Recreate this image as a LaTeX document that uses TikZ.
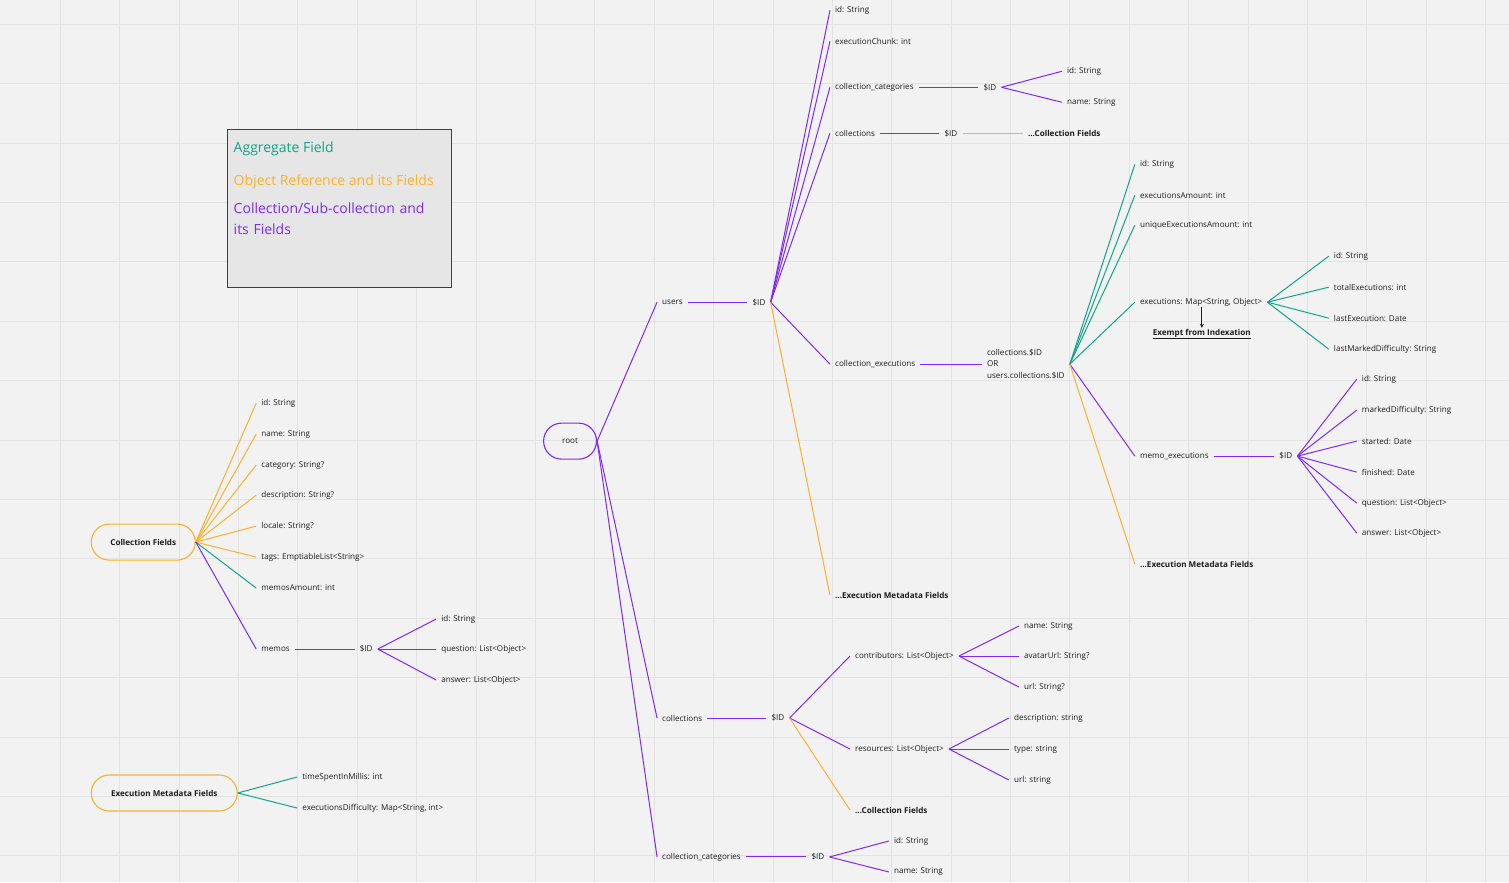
\documentclass[tikz,border=0pt]{standalone}
\usepackage{fontspec}
\usetikzlibrary{calc}
\setmainfont{Open Sans}
\definecolor{bgcolor}{HTML}{F2F2F2}
\definecolor{gridcolor}{HTML}{E3E3E3}
\definecolor{inkcolor}{HTML}{1C1C1C}
\definecolor{purplecolor}{HTML}{7B2BF9}
\definecolor{tealcolor}{HTML}{10A588}
\definecolor{orangecolor}{HTML}{FBB12E}
\definecolor{boxcolor}{HTML}{E6E6E6}
% curved branch from one node to another
\newcommand{\fanto}[3]{\draw [#1] (#2) .. controls ($(#2)!0.5!(#3)$ |- #2) and ($(#2)!0.5!(#3)$ |- #3) .. (#3);}

\begin{document}
\begin{tikzpicture}[x=1pt, y=-1pt,
    leaf/.style={anchor=west, inner xsep=5pt, inner ysep=1pt, text=inkcolor, font=\fontsize{8.1}{9}\selectfont},
    idnode/.style={anchor=center, inner xsep=5pt, inner ysep=1pt, text=inkcolor, font=\fontsize{8.1}{9}\selectfont},
    boldleaf/.style={leaf, font=\fontsize{8.1}{9}\selectfont\bfseries},
    pill/.style={draw, rounded corners=18pt, minimum height=36pt, line width=1.1pt, text=inkcolor},
    pline/.style={draw=purplecolor, line width=1pt},
    tline/.style={draw=tealcolor, line width=1pt},
    oline/.style={draw=orangecolor, line width=1pt}]

    % background and grid
    \fill [bgcolor] (0, 0) rectangle (1509, 882);
    \foreach \g in {24, 83.4, ..., 882} \draw [gridcolor, line width=0.6pt] (0, \g) -- (1509, \g);
    \foreach \g in {60, 119.4, ..., 1509} \draw [gridcolor, line width=0.6pt] (\g, 0) -- (\g, 882);

    % legend
    \draw [fill=boxcolor, draw=black!75, line width=1.2pt] (227, 129) rectangle (451, 287);
    \node [anchor=west, text=tealcolor, font=\fontsize{14}{16}\selectfont] (lgagg) at (230, 149) {Aggregate Field};
    \node [anchor=west, text=orangecolor, font=\fontsize{14}{16}\selectfont] (lgref) at (230, 182) {Object Reference and its Fields};
    \node [anchor=north west, text=purplecolor, text width=200pt, align=left, font=\fontsize{14}{21}\selectfont] (lgcol) at (230, 199) {Collection/Sub-collection and its Fields};

    % root
    \node [pill, draw=purplecolor, minimum width=53pt, font=\fontsize{8.1}{9}\selectfont] (root) at (570, 441) {root};
    \node [leaf] (users) at (657, 302) {users};
    \node [leaf] (colls) at (657, 718) {collections};
    \node [leaf] (cats) at (657, 857) {collection\_categories};
    \fanto{pline}{root.east}{users.west}
    \fanto{pline}{root.east}{colls.west}
    \fanto{pline}{root.east}{cats.west}

    % users
    \node [idnode] (uid) at (759, 302) {\$ID};
    \draw [pline] (users.east) -- (uid.west);
    \node [leaf] (uidf) at (830, 10) {id: String};
    \node [leaf] (uchunk) at (830, 41) {executionChunk: int};
    \node [leaf] (ucats) at (830, 87) {collection\_categories};
    \node [leaf] (ucolls) at (830, 133) {collections};
    \node [leaf] (uexecs) at (830, 364) {collection\_executions};
    \node [boldleaf] (umeta) at (830, 595) {...Execution Metadata Fields};
    \foreach \n in {uidf, uchunk, ucats, ucolls, uexecs}
        {\fanto{pline}{uid.east}{\n.west}}
    \fanto{oline}{uid.east}{umeta.west}

    % users / collection_categories
    \node [idnode] (ucatid) at (990, 87) {\$ID};
    \draw [pline] (ucats.east) -- (ucatid.west);
    \node [leaf] (ucatidf) at (1062, 71) {id: String};
    \node [leaf] (ucatname) at (1062, 102) {name: String};
    \fanto{pline}{ucatid.east}{ucatidf.west}
    \fanto{pline}{ucatid.east}{ucatname.west}

    % users / collections
    \node [idnode] (ucollid) at (951, 133) {\$ID};
    \node [boldleaf] (ucollref) at (1023, 133) {...Collection Fields};
    \draw [pline] (ucolls.east) -- (ucollid.west);
    \draw [oline] (ucollid.east) -- (ucollref.west);

    % users / collection_executions
    \node [anchor=west, inner xsep=5pt, text=inkcolor, align=left, font=\fontsize{8.1}{12}\selectfont] (execid) at (982, 364) {collections.\$ID\\OR\\users.collections.\$ID};
    \draw [pline] (uexecs.east) -- (execid.west);
    \node [leaf] (eidf) at (1135, 164) {id: String};
    \node [leaf] (eamount) at (1135, 195) {executionsAmount: int};
    \node [leaf] (euamount) at (1135, 225) {uniqueExecutionsAmount: int};
    \node [leaf] (emap) at (1135, 302) {executions: Map<String, Object>};
    \node [leaf] (ememo) at (1135, 456) {memo\_executions};
    \node [boldleaf] (emeta) at (1135, 564) {...Execution Metadata Fields};
    \foreach \n in {eidf, eamount, euamount, emap}
        {\fanto{tline}{execid.east}{\n.west}}
    \fanto{pline}{execid.east}{ememo.west}
    \fanto{oline}{execid.east}{emeta.west}

    % executions map
    \node [anchor=center, inner sep=1pt, text=inkcolor, font=\fontsize{8.1}{9}\selectfont\bfseries] (exempt) at (1202, 334) {\underline{Exempt from Indexation}};
    \draw [-stealth, inkcolor, line width=0.8pt] (exempt.north |- emap.south) -- (exempt.north);
    \node [leaf] (midf) at (1329, 256) {id: String};
    \node [leaf] (mtotal) at (1329, 287) {totalExecutions: int};
    \node [leaf] (mlast) at (1329, 318) {lastExecution: Date};
    \node [leaf] (mdiff) at (1329, 349) {lastMarkedDifficulty: String};
    \foreach \n in {midf, mtotal, mlast, mdiff}
        {\fanto{tline}{emap.east}{\n.west}}

    % memo_executions
    \node [idnode] (memoid) at (1286, 456) {\$ID};
    \draw [pline] (ememo.east) -- (memoid.west);
    \node [leaf] (meidf) at (1357, 379) {id: String};
    \node [leaf] (medif) at (1357, 410) {markedDifficulty: String};
    \node [leaf] (mestart) at (1357, 441) {started: Date};
    \node [leaf] (mefin) at (1357, 472) {finished: Date};
    \node [leaf] (meq) at (1357, 503) {question: List<Object>};
    \node [leaf] (mea) at (1357, 533) {answer: List<Object>};
    \foreach \n in {meidf, medif, mestart, mefin, meq, mea}
        {\fanto{pline}{memoid.east}{\n.west}}

    % collections
    \node [idnode] (collid) at (778, 718) {\$ID};
    \draw [pline] (colls.east) -- (collid.west);
    \node [leaf] (contrib) at (850, 656) {contributors: List<Object>};
    \node [leaf] (res) at (850, 749) {resources: List<Object>};
    \node [boldleaf] (collref) at (850, 810) {...Collection Fields};
    \fanto{pline}{collid.east}{contrib.west}
    \fanto{pline}{collid.east}{res.west}
    \fanto{oline}{collid.east}{collref.west}
    \node [leaf] (cname) at (1019, 626) {name: String};
    \node [leaf] (cavatar) at (1019, 656) {avatarUrl: String?};
    \node [leaf] (curl) at (1019, 687) {url: String?};
    \foreach \n in {cname, cavatar, curl}
        {\fanto{pline}{contrib.east}{\n.west}}
    \node [leaf] (rdesc) at (1009, 718) {description: string};
    \node [leaf] (rtype) at (1009, 749) {type: string};
    \node [leaf] (rurl) at (1009, 780) {url: string};
    \foreach \n in {rdesc, rtype, rurl}
        {\fanto{pline}{res.east}{\n.west}}

    % collection_categories
    \node [idnode] (catid) at (818, 857) {\$ID};
    \draw [pline] (cats.east) -- (catid.west);
    \node [leaf] (catidf) at (889, 841) {id: String};
    \node [leaf] (catname) at (889, 872) {name: String};
    \fanto{pline}{catid.east}{catidf.west}
    \fanto{pline}{catid.east}{catname.west}

    % collection fields
    \node [pill, draw=orangecolor, minimum width=104pt, font=\fontsize{8.1}{9}\selectfont\bfseries] (cf) at (143, 542) {Collection Fields};
    \node [leaf] (cfid) at (256, 403) {id: String};
    \node [leaf] (cfname) at (256, 434) {name: String};
    \node [leaf] (cfcat) at (256, 465) {category: String?};
    \node [leaf] (cfdesc) at (256, 495) {description: String?};
    \node [leaf] (cfloc) at (256, 526) {locale: String?};
    \node [leaf] (cftags) at (256, 557) {tags: EmptiableList<String>};
    \node [leaf] (cfamount) at (256, 588) {memosAmount: int};
    \node [leaf] (cfmemos) at (256, 649) {memos};
    \foreach \n in {cfid, cfname, cfcat, cfdesc, cfloc, cftags}
        {\fanto{oline}{cf.east}{\n.west}}
    \fanto{tline}{cf.east}{cfamount.west}
    \fanto{pline}{cf.east}{cfmemos.west}
    \node [idnode] (memid) at (366, 649) {\$ID};
    \draw [pline] (cfmemos.east) -- (memid.west);
    \node [leaf] (memidf) at (436, 619) {id: String};
    \node [leaf] (memq) at (436, 649) {question: List<Object>};
    \node [leaf] (mema) at (436, 680) {answer: List<Object>};
    \foreach \n in {memidf, memq, mema}
        {\fanto{pline}{memid.east}{\n.west}}

    % execution metadata fields
    \node [pill, draw=orangecolor, minimum width=146pt, font=\fontsize{8.1}{9}\selectfont\bfseries] (emf) at (164, 793) {Execution Metadata Fields};
    \node [leaf] (emtime) at (297, 777) {timeSpentInMillis: int};
    \node [leaf] (emdiff) at (297, 808) {executionsDifficulty: Map<String, int>};
    \fanto{tline}{emf.east}{emtime.west}
    \fanto{tline}{emf.east}{emdiff.west}

    \useasboundingbox (0, 0) rectangle (1509, 882);
\end{tikzpicture}
\end{document}
